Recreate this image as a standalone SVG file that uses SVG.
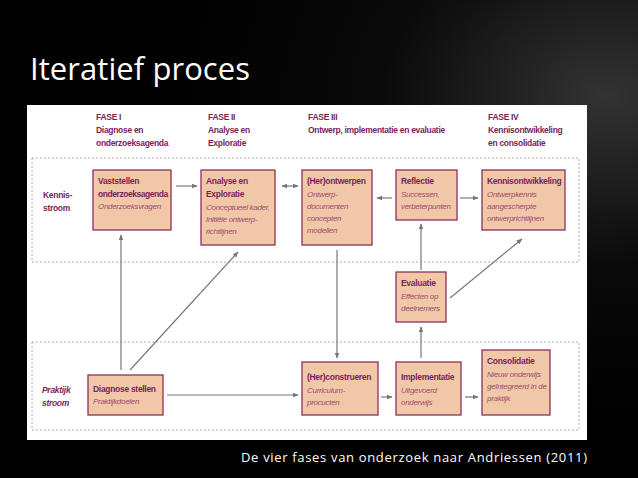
<svg xmlns="http://www.w3.org/2000/svg" width="638" height="478" viewBox="0 0 638 478">
<defs>
<radialGradient id="bg" cx="0.95" cy="0.2" r="0.7"><stop offset="0" stop-color="#333"/><stop offset="0.5" stop-color="#0a0a0a"/><stop offset="1" stop-color="#000"/></radialGradient>
<marker id="ah" viewBox="0 0 10 10" refX="9" refY="5" markerWidth="5" markerHeight="5" orient="auto-start-reverse"><path d="M0,1 L10,5 L0,9 z" fill="#777"/></marker>
<style>
.box{fill:#f1c8a7;stroke:#8c2f5e;stroke-width:1.3}
.frame{fill:none;stroke:#999;stroke-width:0.8;stroke-dasharray:2,2}
.h{font-family:"Liberation Sans",sans-serif;font-size:8.5px;font-weight:bold;fill:#7a1f5c;letter-spacing:-0.3px}
.i{font-family:"Liberation Sans",sans-serif;font-size:8px;font-style:italic;fill:#a04a72;letter-spacing:-0.3px}
.c{stroke:#777;stroke-width:1.2;fill:none;marker-end:url(#ah)}
</style>
</defs>
<rect width="638" height="478" fill="url(#bg)"/>
<text x="30" y="80" font-family="Open Sans,sans-serif" font-size="31" fill="#fff" textLength="220">Iteratief proces</text>
<rect x="27" y="105" width="560" height="335" fill="#fff"/>
<text x="241" y="462" font-family="Open Sans,sans-serif" font-size="13" fill="#fff" textLength="346">De vier fases van onderzoek naar Andriessen (2011)</text>
<rect class="frame" x="32" y="158" width="547" height="104"/>
<rect class="frame" x="32" y="342" width="547" height="88"/>
<g id="headers" class="h">
<text x="96" y="120">FASE I</text><text x="96" y="133">Diagnose en</text><text x="96" y="146">onderzoeksagenda</text>
<text x="208" y="120">FASE II</text><text x="208" y="133">Analyse en</text><text x="208" y="146">Exploratie</text>
<text x="308" y="120">FASE  III</text><text x="308" y="133">Ontwerp, implementatie en evaluatie</text>
<text x="488" y="120">FASE IV</text><text x="488" y="133">Kennisontwikkeling</text><text x="488" y="146">en consolidatie</text>
</g>
<g class="h"><text x="43" y="198">Kennis-</text><text x="43" y="211">stroom</text></g>
<g class="h" style="font-style:italic"><text x="42" y="393">Praktijk</text><text x="42" y="406">stroom</text></g>
<g id="connectors">
<line class="c" x1="176" y1="186" x2="197" y2="186"/>
<line class="c" x1="282" y1="186" x2="298" y2="186" style="marker-start:url(#ah)"/>
<line class="c" x1="392" y1="198" x2="377" y2="198"/>
<line class="c" x1="460" y1="198" x2="478" y2="198"/>
<line class="c" x1="421" y1="270" x2="421" y2="224"/>
<line class="c" x1="450" y1="298" x2="522" y2="239"/>
<line class="c" x1="121" y1="370" x2="121" y2="235"/>
<line class="c" x1="130" y1="370" x2="238" y2="252"/>
<line class="c" x1="337" y1="250" x2="337" y2="358"/>
<line class="c" x1="167" y1="395" x2="298" y2="395"/>
<line class="c" x1="381" y1="397" x2="392" y2="397"/>
<line class="c" x1="421" y1="358" x2="421" y2="327"/>
<line class="c" x1="465" y1="397" x2="478" y2="397"/>
</g>
<g id="vaststellen"><rect class="box" x="93" y="170" width="78" height="60"/><text class="h" x="98" y="184">Vaststellen</text><text class="h" x="98" y="197" textLength="70">onderzoeksagenda</text><text class="i" x="98" y="209">Onderzoeksvragen</text></g>
<g id="analyse"><rect class="box" x="201" y="170" width="74" height="75"/><text class="h" x="206" y="184">Analyse en</text><text class="h" x="206" y="197">Exploratie</text><text class="i" x="206" y="210">Conceptueel kader,</text><text class="i" x="206" y="222">Initiële ontwerp-</text><text class="i" x="206" y="234">richtlijnen</text></g>
<g id="herontwerpen"><rect class="box" x="302" y="170" width="70" height="75"/><text class="h" x="307" y="184">(Her)ontwerpen</text><text class="i" x="307" y="197">Ontwerp-</text><text class="i" x="307" y="209">documenten</text><text class="i" x="307" y="221">concepten</text><text class="i" x="307" y="233">modellen</text></g>
<g id="reflectie"><rect class="box" x="396" y="170" width="61" height="50"/><text class="h" x="401" y="184">Reflectie</text><text class="i" x="401" y="197">Successen,</text><text class="i" x="401" y="209">verbeterpunten</text></g>
<g id="kennisontwikkeling"><rect class="box" x="482" y="170" width="83" height="60"/><text class="h" x="487" y="184">Kennisontwikkeling</text><text class="i" x="487" y="197">Ontwerpkennis</text><text class="i" x="487" y="209">aangescherpte</text><text class="i" x="487" y="221">ontwerprichtlijnen</text></g>
<g id="evaluatie"><rect class="box" x="396" y="272" width="50" height="50"/><text class="h" x="401" y="286">Evaluatie</text><text class="i" x="401" y="299">Effecten op</text><text class="i" x="401" y="311">deelnemers</text></g>
<g id="diagnose"><rect class="box" x="88" y="375" width="75" height="40"/><text class="h" x="93" y="392">Diagnose stellen</text><text class="i" x="93" y="404">Praktijkdoelen</text></g>
<g id="herconstrueren"><rect class="box" x="302" y="362" width="76" height="53"/><text class="h" x="307" y="380">(Her)construeren</text><text class="i" x="307" y="393">Curriculum-</text><text class="i" x="307" y="405">procucten</text></g>
<g id="implementatie"><rect class="box" x="396" y="362" width="65" height="53"/><text class="h" x="401" y="380">Implementatie</text><text class="i" x="401" y="393">Uitgevoerd</text><text class="i" x="401" y="405">onderwijs</text></g>
<g id="consolidatie"><rect class="box" x="482" y="350" width="68" height="65"/><text class="h" x="487" y="364">Consolidatie</text><text class="i" x="487" y="377">Nieuw onderwijs</text><text class="i" x="487" y="389">geïntegreerd in de</text><text class="i" x="487" y="401">praktijk</text></g>
</svg>
